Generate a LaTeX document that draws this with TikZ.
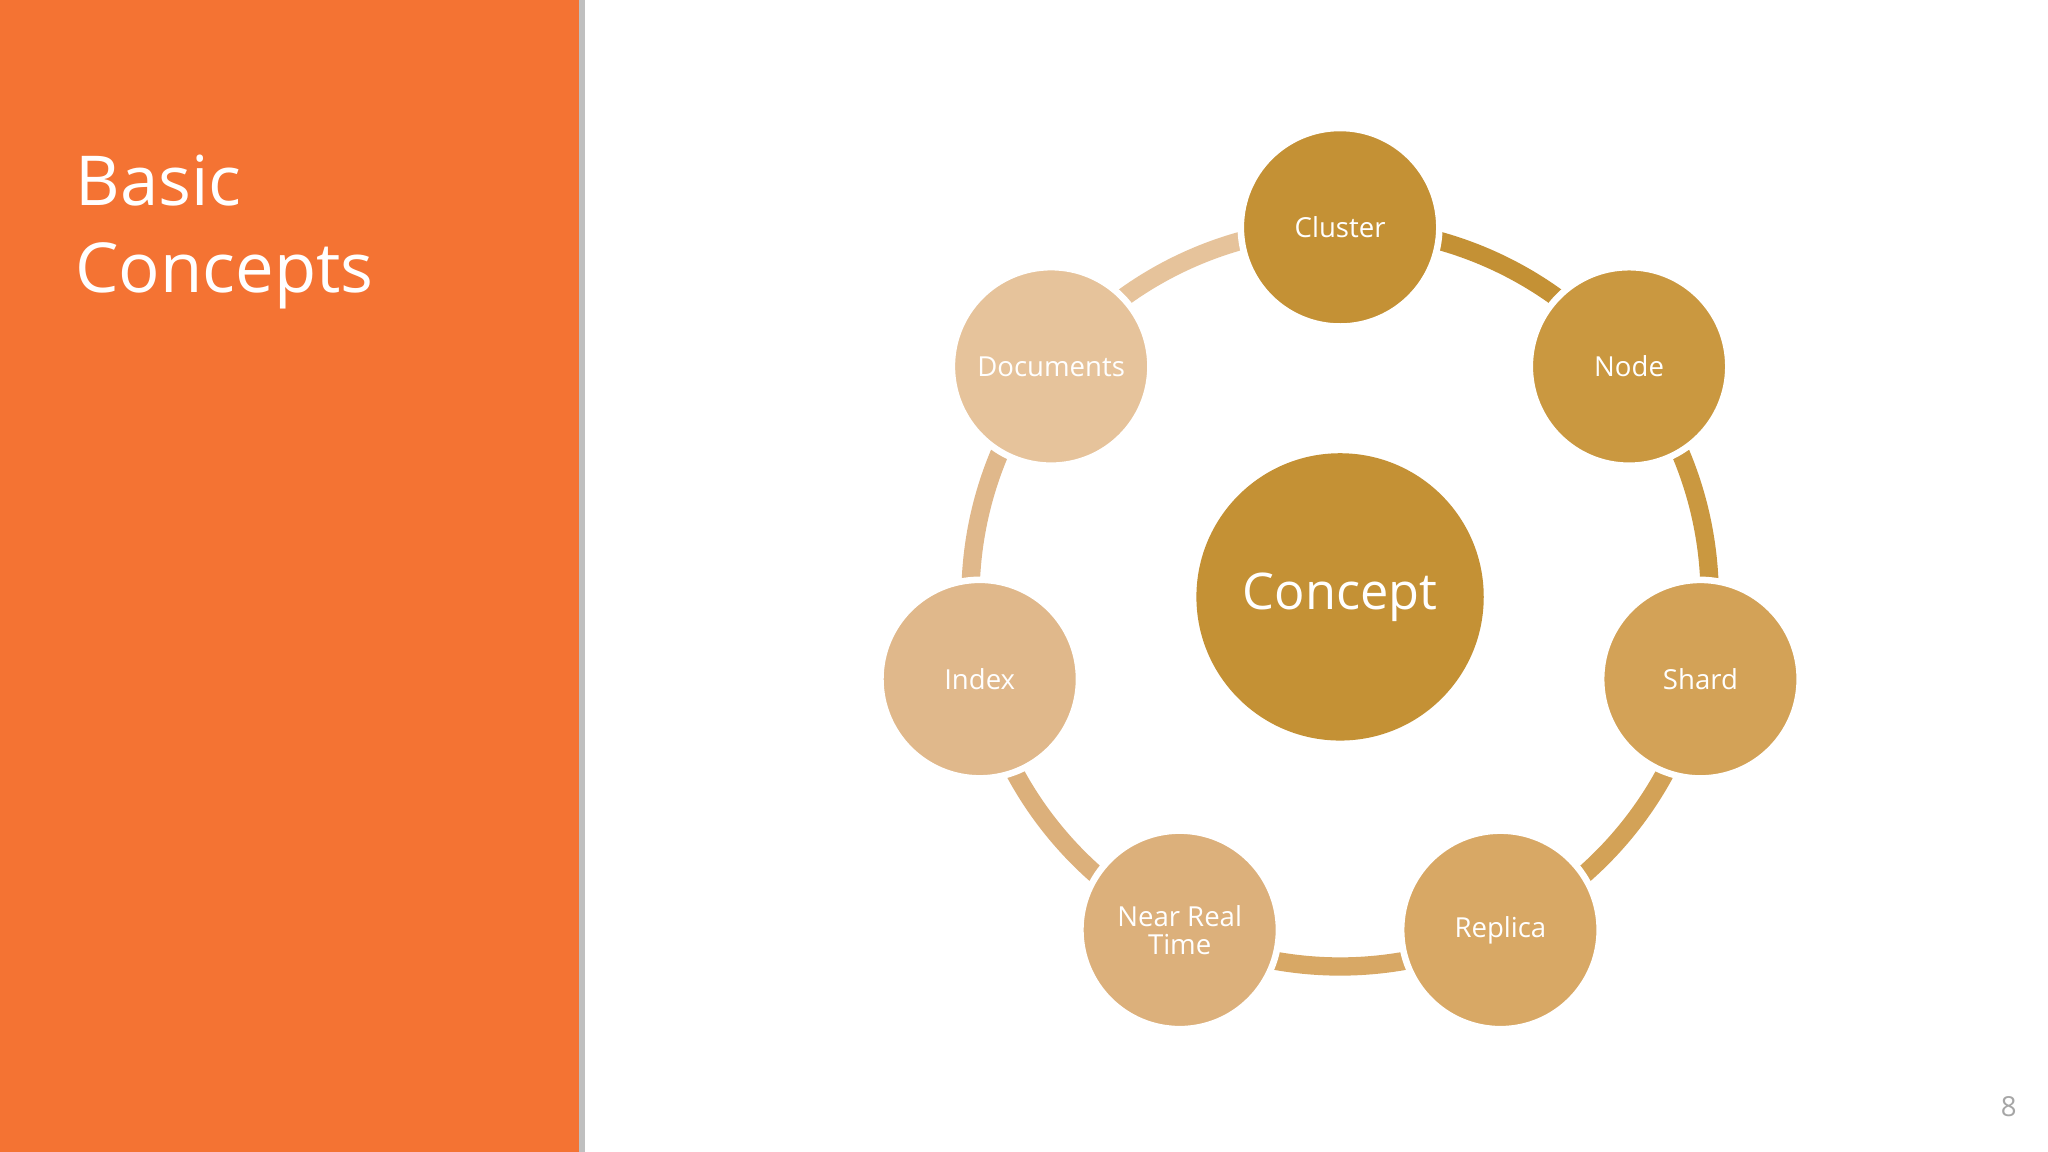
\documentclass[tikz,border=0pt]{standalone}
\usepackage{fontspec}
\setmainfont{Open Sans}
\usetikzlibrary{calc}
\begin{document}
\begin{tikzpicture}[x=0.01cm,y=-0.01cm]
\definecolor{org}{HTML}{F47333}
\definecolor{c1}{HTML}{C49135}
\definecolor{c2}{HTML}{CA9840}
\definecolor{c3}{HTML}{D3A257}
\definecolor{c4}{HTML}{D8A865}
\definecolor{c5}{HTML}{DCB07B}
\definecolor{c6}{HTML}{E0B88B}
\definecolor{c7}{HTML}{E6C39B}
\tikzset{ring/.style={circle,minimum size=152*0.01cm,draw=white,line width=0.05cm,text=white,font=\fontsize{6}{7}\selectfont,align=center,inner sep=0pt},
arcst/.style={line width=0.14cm}}
\useasboundingbox (0,0) rectangle (1568,882);
\fill[white] (0,0) rectangle (1568,882);
\fill[black!25] (443,0) rectangle (448,882);
\fill[org] (0,0) rectangle (443,882);
\node[anchor=north west,text=white,align=left,font=\fontsize{15}{19}\selectfont,inner sep=0pt] (title) at (57,118) {Basic\\Concepts};
\node[text=black!35,font=\fontsize{6}{7}\selectfont] (pg) at (1538,847) {8};
\coordinate (c) at (1026,457);
\foreach \i/\col in {0/c1,1/c2,2/c3,3/c4,4/c5,5/c6,6/c7}{
  \draw[\col,arcst] ($(c)+({-(90-51.43*\i)}:283)$) arc[start angle={-(90-51.43*\i)},end angle={-(90-51.43*(\i+1))},radius=283];
}
\node[ring,fill=c1] (cluster) at ($(c)+(-90:283)$) {Cluster};
\node[ring,fill=c2] (node) at ($(c)+({-(90-51.43)}:283)$) {Node};
\node[ring,fill=c3] (shard) at ($(c)+({-(90-2*51.43)}:283)$) {Shard};
\node[ring,fill=c4] (replica) at ($(c)+({-(90-3*51.43)}:283)$) {Replica};
\node[ring,fill=c5] (nrt) at ($(c)+({-(90-4*51.43)}:283)$) {Near Real\\[-1pt]Time};
\node[ring,fill=c6] (index) at ($(c)+({-(90-5*51.43)}:283)$) {Index};
\node[ring,fill=c7] (docs) at ($(c)+({-(90-6*51.43)}:283)$) {Documents};
\node[circle,fill=c1,minimum size=220*0.01cm,text=white,font=\fontsize{11}{13}\selectfont] (concept) at (c) {Concept};
\end{tikzpicture}
\end{document}
